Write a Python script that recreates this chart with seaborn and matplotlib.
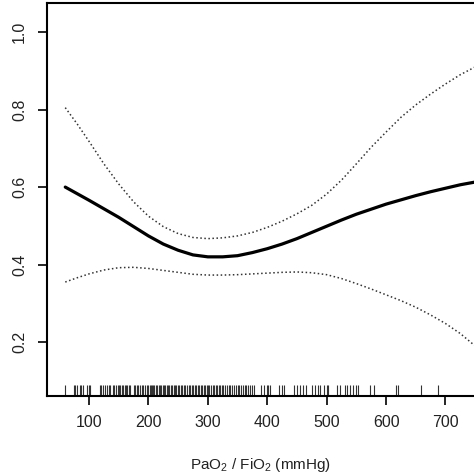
#Spline plot of PaO2/FiO2 with confidence band and rug

import pandas as pd
import seaborn as sns
import matplotlib
matplotlib.use("Agg")
import matplotlib.pyplot as plt

#Values
pf_ratio = [60, 80, 100, 125, 150, 175, 200, 225, 250, 275, 300, 325, 350,
            375, 400, 425, 450, 475, 500, 525, 550, 575, 600, 625, 650, 675,
            700, 725, 750]
fit = [0.600, 0.583, 0.566, 0.544, 0.522, 0.498, 0.474, 0.453, 0.437, 0.425,
       0.420, 0.420, 0.423, 0.431, 0.441, 0.453, 0.467, 0.483, 0.499, 0.515,
       0.530, 0.543, 0.556, 0.567, 0.578, 0.588, 0.597, 0.606, 0.613]
upper = [0.805, 0.763, 0.718, 0.660, 0.608, 0.562, 0.525, 0.498, 0.480, 0.470,
         0.467, 0.469, 0.474, 0.483, 0.496, 0.512, 0.531, 0.553, 0.582, 0.618,
         0.660, 0.703, 0.742, 0.780, 0.812, 0.840, 0.866, 0.890, 0.910]
lower = [0.355, 0.366, 0.376, 0.386, 0.392, 0.393, 0.390, 0.385, 0.380, 0.375,
         0.373, 0.373, 0.374, 0.376, 0.378, 0.380, 0.381, 0.379, 0.374, 0.364,
         0.351, 0.337, 0.322, 0.307, 0.290, 0.270, 0.248, 0.222, 0.190]

#Observed PaO2/FiO2 values (rug)
rug = [60, 74, 77, 80, 84, 87, 90, 96, 100, 101,
       118, 121, 124, 127, 131, 134, 136, 140, 142, 145, 148, 150, 152, 155,
       157, 160, 162, 164, 167, 169,
       175, 178, 180, 183, 186, 189, 191, 194, 197, 199,
       202, 204, 206, 208, 210, 212, 215, 217, 219, 221, 224, 226, 228, 231,
       233, 235, 238, 240, 243, 245, 247, 250, 252, 255, 257, 260, 262, 265,
       268, 270, 273, 275,
       278, 280, 283, 285, 288, 290, 293, 296, 298, 300, 302, 305, 308, 310,
       313, 315, 318, 320, 323, 326, 329, 332, 335, 338, 341, 344, 347, 350,
       353, 356, 359, 362, 365, 368, 371, 374, 377,
       390, 395, 400, 402, 405,
       420, 425, 428,
       445, 450, 455, 460, 465,
       475, 480, 485, 489,
       495, 500, 503,
       517, 523, 531, 535, 540, 545, 550, 553,
       573, 579, 617, 620, 659, 688]

df = pd.DataFrame({"pf": pf_ratio, "fit": fit, "upper": upper, "lower": lower})

sns.set_style("white")
plt.rcParams["font.family"] = ["Liberation Sans", "DejaVu Sans"]
plt.rcParams["mathtext.fontset"] = "custom"
plt.rcParams["mathtext.rm"] = "Liberation Sans"
plt.rcParams["mathtext.it"] = "Liberation Sans"

fig = plt.figure(figsize=(4.74, 4.74), dpi=100)
ax = fig.add_axes([0.0992, 0.1646, 0.9008, 0.8291])

sns.lineplot(data=df, x="pf", y="fit", color="black", linewidth=2.3, ax=ax)
sns.lineplot(data=df, x="pf", y="upper", color="#333333", linewidth=1.1,
             linestyle=":", ax=ax)
sns.lineplot(data=df, x="pf", y="lower", color="#333333", linewidth=1.1,
             linestyle=":", ax=ax)
sns.rugplot(x=rug, height=0.028, color="#333333", linewidth=0.8, ax=ax)

ax.set_xlim(29.3, 748)
ax.set_ylim(0.061, 1.075)
ax.set_xticks([100, 200, 300, 400, 500, 600, 700])
ax.set_yticks([0.2, 0.4, 0.6, 0.8, 1.0])
ax.set_yticklabels(["0.2", "0.4", "0.6", "0.8", "1.0"], rotation=90, va="center")

for side in ["left", "bottom", "top"]:
    ax.spines[side].set_color("black")
    ax.spines[side].set_linewidth(1.5)
ax.spines["right"].set_visible(False)

ax.tick_params(axis="both", direction="out", length=6.5, width=1.2,
               color="black", labelsize=11.5, labelcolor="#222222")
ax.tick_params(axis="x", pad=7)
ax.tick_params(axis="y", pad=8)
ax.xaxis.set_ticks_position("bottom")
ax.yaxis.set_ticks_position("left")

ax.set_xlabel(r"PaO$_2$ / FiO$_2$ (mmHg)", fontsize=11, color="#222222",
              labelpad=19)
ax.set_ylabel("")

fig.savefig("out.png", dpi=100)
